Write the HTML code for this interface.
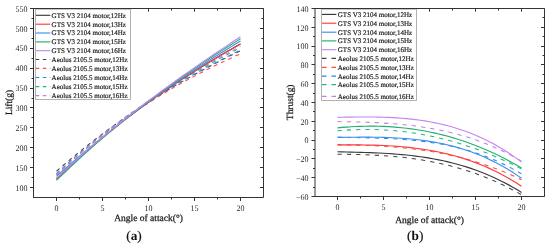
<!DOCTYPE html>
<html><head><meta charset="utf-8"><style>
html,body{margin:0;padding:0;background:#fff;width:550px;height:248px;overflow:hidden}
svg{display:block}
</style></head><body>
<svg width="550" height="248" viewBox="0 0 550 248" text-rendering="geometricPrecision">
<rect width="550" height="248" fill="#fff"/>
<g fill="none" stroke-width="1.15" stroke-linejoin="round">
<polyline points="56.5,171.23 61.1,167.22 65.7,163.27 70.3,159.39 74.9,155.56 79.5,151.8 84.1,148.1 88.7,144.45 93.3,140.86 97.9,137.33 102.5,133.86 107.1,130.44 111.7,127.07 116.3,123.76 120.9,120.5 125.5,117.29 130.1,114.13 134.7,111.02 139.3,107.96 143.9,104.94 148.5,101.97 153.1,99.05 157.7,96.16 162.3,93.33 166.9,90.53 171.5,87.77 176.1,85.06 180.7,82.38 185.3,79.74 189.9,77.14 194.5,74.57 199.1,72.04 203.7,69.55 208.3,67.08 212.9,64.65 217.5,62.25 222.1,59.88 226.7,57.53 231.3,55.22 235.9,52.93 240.5,50.67" stroke="#444444" stroke-width="1.05" stroke-dasharray="4,4"/>
<polyline points="56.5,175.13 61.1,170.79 65.7,166.54 70.3,162.37 74.9,158.28 79.5,154.27 84.1,150.35 88.7,146.5 93.3,142.72 97.9,139.02 102.5,135.39 107.1,131.84 111.7,128.36 116.3,124.94 120.9,121.59 125.5,118.31 130.1,115.1 134.7,111.94 139.3,108.85 143.9,105.82 148.5,102.85 153.1,99.94 157.7,97.08 162.3,94.28 166.9,91.54 171.5,88.84 176.1,86.2 180.7,83.61 185.3,81.06 189.9,78.56 194.5,76.11 199.1,73.7 203.7,71.33 208.3,69.01 212.9,66.72 217.5,64.47 222.1,62.27 226.7,60.09 231.3,57.95 235.9,55.84 240.5,53.77" stroke="#ff4a4a" stroke-width="1.05" stroke-dasharray="4,4"/>
<polyline points="56.5,173.62 61.1,169.4 65.7,165.26 70.3,161.19 74.9,157.19 79.5,153.27 84.1,149.41 88.7,145.62 93.3,141.9 97.9,138.25 102.5,134.66 107.1,131.13 111.7,127.66 116.3,124.25 120.9,120.91 125.5,117.62 130.1,114.38 134.7,111.2 139.3,108.07 143.9,105 148.5,101.97 153.1,98.99 157.7,96.07 162.3,93.18 166.9,90.34 171.5,87.55 176.1,84.8 180.7,82.08 185.3,79.41 189.9,76.77 194.5,74.18 199.1,71.61 203.7,69.08 208.3,66.58 212.9,64.11 217.5,61.68 222.1,59.27 226.7,56.88 231.3,54.52 235.9,52.19 240.5,49.88" stroke="#2a8ae8" stroke-width="1.05" stroke-dasharray="4,4"/>
<polyline points="56.5,174.05 61.1,169.77 65.7,165.56 70.3,161.44 74.9,157.39 79.5,153.41 84.1,149.5 88.7,145.66 93.3,141.89 97.9,138.18 102.5,134.54 107.1,130.96 111.7,127.45 116.3,123.99 120.9,120.6 125.5,117.25 130.1,113.97 134.7,110.74 139.3,107.56 143.9,104.43 148.5,101.35 153.1,98.31 157.7,95.32 162.3,92.38 166.9,89.48 171.5,86.62 176.1,83.79 180.7,81.01 185.3,78.26 189.9,75.55 194.5,72.87 199.1,70.22 203.7,67.6 208.3,65.01 212.9,62.44 217.5,59.9 222.1,57.38 226.7,54.89 231.3,52.41 235.9,49.96 240.5,47.52" stroke="#22b585" stroke-width="1.05" stroke-dasharray="4,4"/>
<polyline points="56.5,174.62 61.1,170.34 65.7,166.13 70.3,161.99 74.9,157.92 79.5,153.91 84.1,149.98 88.7,146.1 93.3,142.29 97.9,138.54 102.5,134.86 107.1,131.23 111.7,127.66 116.3,124.15 120.9,120.7 125.5,117.3 130.1,113.95 134.7,110.65 139.3,107.41 143.9,104.22 148.5,101.07 153.1,97.97 157.7,94.92 162.3,91.91 166.9,88.95 171.5,86.02 176.1,83.14 180.7,80.3 185.3,77.49 189.9,74.72 194.5,71.99 199.1,69.29 203.7,66.63 208.3,63.99 212.9,61.39 217.5,58.82 222.1,56.27 226.7,53.75 231.3,51.26 235.9,48.79 240.5,46.34" stroke="#c47ee8" stroke-width="1.05" stroke-dasharray="4,4"/>
<polyline points="56.5,178.83 61.1,174.43 65.7,170.11 70.3,165.84 74.9,161.64 79.5,157.5 84.1,153.42 88.7,149.41 93.3,145.45 97.9,141.55 102.5,137.7 107.1,133.91 111.7,130.18 116.3,126.5 120.9,122.88 125.5,119.3 130.1,115.78 134.7,112.3 139.3,108.88 143.9,105.5 148.5,102.18 153.1,98.89 157.7,95.65 162.3,92.46 166.9,89.31 171.5,86.2 176.1,83.13 180.7,80.11 185.3,77.12 189.9,74.17 194.5,71.25 199.1,68.38 203.7,65.53 208.3,62.73 212.9,59.95 217.5,57.21 222.1,54.5 226.7,51.82 231.3,49.16 235.9,46.54 240.5,43.94" stroke="#3a3a3a"/>
<polyline points="56.5,179.22 61.1,174.77 65.7,170.39 70.3,166.08 74.9,161.84 79.5,157.66 84.1,153.55 88.7,149.5 93.3,145.51 97.9,141.59 102.5,137.72 107.1,133.92 111.7,130.17 116.3,126.48 120.9,122.85 125.5,119.27 130.1,115.74 134.7,112.27 139.3,108.84 143.9,105.47 148.5,102.14 153.1,98.86 157.7,95.63 162.3,92.44 166.9,89.3 171.5,86.19 176.1,83.13 180.7,80.11 185.3,77.13 189.9,74.18 194.5,71.28 199.1,68.4 203.7,65.56 208.3,62.76 212.9,59.98 217.5,57.24 222.1,54.53 226.7,51.84 231.3,49.18 235.9,46.54 240.5,43.94" stroke="#ff3b3b"/>
<polyline points="56.5,176.38 61.1,172.27 65.7,168.2 70.3,164.18 74.9,160.2 79.5,156.26 84.1,152.36 88.7,148.5 93.3,144.68 97.9,140.9 102.5,137.16 107.1,133.45 111.7,129.79 116.3,126.16 120.9,122.57 125.5,119.02 130.1,115.5 134.7,112.03 139.3,108.58 143.9,105.17 148.5,101.8 153.1,98.46 157.7,95.16 162.3,91.89 166.9,88.65 171.5,85.45 176.1,82.28 180.7,79.14 185.3,76.03 189.9,72.96 194.5,69.91 199.1,66.9 203.7,63.92 208.3,60.96 212.9,58.04 217.5,55.14 222.1,52.28 226.7,49.44 231.3,46.63 235.9,43.85 240.5,41.09" stroke="#3b8ff0"/>
<polyline points="56.5,180.4 61.1,175.9 65.7,171.47 70.3,167.1 74.9,162.79 79.5,158.54 84.1,154.35 88.7,150.22 93.3,146.15 97.9,142.13 102.5,138.17 107.1,134.26 111.7,130.4 116.3,126.59 120.9,122.84 125.5,119.13 130.1,115.47 134.7,111.85 139.3,108.29 143.9,104.76 148.5,101.28 153.1,97.84 157.7,94.44 162.3,91.07 166.9,87.75 171.5,84.46 176.1,81.21 180.7,77.99 185.3,74.81 189.9,71.66 194.5,68.54 199.1,65.44 203.7,62.38 208.3,59.35 212.9,56.33 217.5,53.35 222.1,50.39 226.7,47.45 231.3,44.53 235.9,41.63 240.5,38.75" stroke="#22b070"/>
<polyline points="56.5,178.23 61.1,173.91 65.7,169.64 70.3,165.42 74.9,161.25 79.5,157.14 84.1,153.07 88.7,149.06 93.3,145.09 97.9,141.17 102.5,137.29 107.1,133.46 111.7,129.67 116.3,125.93 120.9,122.22 125.5,118.56 130.1,114.93 134.7,111.35 139.3,107.8 143.9,104.28 148.5,100.8 153.1,97.35 157.7,93.94 162.3,90.56 166.9,87.2 171.5,83.88 176.1,80.58 180.7,77.32 185.3,74.07 189.9,70.86 194.5,67.66 199.1,64.49 203.7,61.34 208.3,58.21 212.9,55.1 217.5,52.01 222.1,48.93 226.7,45.87 231.3,42.83 235.9,39.8 240.5,36.78" stroke="#c486f2"/>
</g>
<path d="M56.5 197.5v3.5 M56.5 8.5v3.2 M102.5 197.5v3.5 M102.5 8.5v3.2 M148.5 197.5v3.5 M148.5 8.5v3.2 M194.5 197.5v3.5 M194.5 8.5v3.2 M240.5 197.5v3.5 M240.5 8.5v3.2 M79.5 197.5v2 M79.5 8.5v2 M125.5 197.5v2 M125.5 8.5v2 M171.5 197.5v2 M171.5 8.5v2 M217.5 197.5v2 M217.5 8.5v2 M33.5 187.5h-3.5 M263.5 187.5h-3.5 M33.5 167.5h-3.5 M263.5 167.5h-3.5 M33.5 147.5h-3.5 M263.5 147.5h-3.5 M33.5 127.5h-3.5 M263.5 127.5h-3.5 M33.5 107.5h-3.5 M263.5 107.5h-3.5 M33.5 88.5h-3.5 M263.5 88.5h-3.5 M33.5 68.5h-3.5 M263.5 68.5h-3.5 M33.5 48.5h-3.5 M263.5 48.5h-3.5 M33.5 28.5h-3.5 M263.5 28.5h-3.5 M33.5 8.5h-3.5 M263.5 8.5h-3.5 M33.5 177.5h-2 M263.5 177.5h-2 M33.5 157.5h-2 M263.5 157.5h-2 M33.5 137.5h-2 M263.5 137.5h-2 M33.5 117.5h-2 M263.5 117.5h-2 M33.5 98.5h-2 M263.5 98.5h-2 M33.5 78.5h-2 M263.5 78.5h-2 M33.5 58.5h-2 M263.5 58.5h-2 M33.5 38.5h-2 M263.5 38.5h-2 M33.5 18.5h-2 M263.5 18.5h-2" stroke="#333333" stroke-width="1" fill="none"/>
<rect x="35.5" y="9.2" width="95" height="90.3" fill="#fff" stroke="#aaa" stroke-width="0.9"/>
<g font-family='"Liberation Serif", "Times New Roman", serif' fill="#1a1a1a" stroke="#1a1a1a" stroke-width="0.18">
<path d="M35.8 15.3H50.3" stroke="#3a3a3a" stroke-width="1.15"/>
<text transform="translate(51.6 17.7) scale(1 1)" font-size="7" text-anchor="start">GTS V3 2104 motor,12Hz</text>
<path d="M35.8 24.2H50.3" stroke="#ff3b3b" stroke-width="1.15"/>
<text transform="translate(51.6 26.6) scale(1 1)" font-size="7" text-anchor="start">GTS V3 2104 motor,13Hz</text>
<path d="M35.8 33H50.3" stroke="#3b8ff0" stroke-width="1.15"/>
<text transform="translate(51.6 35.4) scale(1 1)" font-size="7" text-anchor="start">GTS V3 2104 motor,14Hz</text>
<path d="M35.8 41.9H50.3" stroke="#22b070" stroke-width="1.15"/>
<text transform="translate(51.6 44.3) scale(1 1)" font-size="7" text-anchor="start">GTS V3 2104 motor,15Hz</text>
<path d="M35.8 50.7H50.3" stroke="#c486f2" stroke-width="1.15"/>
<text transform="translate(51.6 53.1) scale(1 1)" font-size="7" text-anchor="start">GTS V3 2104 motor,16Hz</text>
<path d="M35.8 59.5H50.3" stroke="#444444" stroke-width="1.2" stroke-dasharray="3.5,3.5"/>
<text transform="translate(51.6 61.9) scale(1 1)" font-size="7" text-anchor="start">Aeolus 2105.5 motor,12Hz</text>
<path d="M35.8 68.4H50.3" stroke="#ff4a4a" stroke-width="1.2" stroke-dasharray="3.5,3.5"/>
<text transform="translate(51.6 70.8) scale(1 1)" font-size="7" text-anchor="start">Aeolus 2105.5 motor,13Hz</text>
<path d="M35.8 77.5H50.3" stroke="#2a8ae8" stroke-width="1.2" stroke-dasharray="3.5,3.5"/>
<text transform="translate(51.6 79.9) scale(1 1)" font-size="7" text-anchor="start">Aeolus 2105.5 motor,14Hz</text>
<path d="M35.8 86.6H50.3" stroke="#22b585" stroke-width="1.2" stroke-dasharray="3.5,3.5"/>
<text transform="translate(51.6 89) scale(1 1)" font-size="7" text-anchor="start">Aeolus 2105.5 motor,15Hz</text>
<path d="M35.8 95.6H50.3" stroke="#c47ee8" stroke-width="1.2" stroke-dasharray="3.5,3.5"/>
<text transform="translate(51.6 98) scale(1 1)" font-size="7" text-anchor="start">Aeolus 2105.5 motor,16Hz</text>
</g>
<path d="M33 8.5H263.5V197.5H33" fill="none" stroke="#333333" stroke-width="1"/>
<path d="M33.5 8V198" fill="none" stroke="#333333" stroke-width="1"/>
<g font-family='"Liberation Serif", "Times New Roman", serif' fill="#2a2a2a">
<text transform="translate(56.5 210.6) scale(0.94 1)" font-size="8.5" text-anchor="middle">0</text>
<text transform="translate(102.5 210.6) scale(0.94 1)" font-size="8.5" text-anchor="middle">5</text>
<text transform="translate(148.5 210.6) scale(0.94 1)" font-size="8.5" text-anchor="middle">10</text>
<text transform="translate(194.5 210.6) scale(0.94 1)" font-size="8.5" text-anchor="middle">15</text>
<text transform="translate(240.5 210.6) scale(0.94 1)" font-size="8.5" text-anchor="middle">20</text>
<text transform="translate(27.5 190.75) scale(0.94 1)" font-size="8.5" text-anchor="end">100</text>
<text transform="translate(27.5 170.86) scale(0.94 1)" font-size="8.5" text-anchor="end">150</text>
<text transform="translate(27.5 150.96) scale(0.94 1)" font-size="8.5" text-anchor="end">200</text>
<text transform="translate(27.5 131.07) scale(0.94 1)" font-size="8.5" text-anchor="end">250</text>
<text transform="translate(27.5 111.17) scale(0.94 1)" font-size="8.5" text-anchor="end">300</text>
<text transform="translate(27.5 91.28) scale(0.94 1)" font-size="8.5" text-anchor="end">350</text>
<text transform="translate(27.5 71.38) scale(0.94 1)" font-size="8.5" text-anchor="end">400</text>
<text transform="translate(27.5 51.49) scale(0.94 1)" font-size="8.5" text-anchor="end">450</text>
<text transform="translate(27.5 31.59) scale(0.94 1)" font-size="8.5" text-anchor="end">500</text>
<text transform="translate(27.5 11.7) scale(0.94 1)" font-size="8.5" text-anchor="end">550</text>
</g>
<g font-family='"Liberation Serif", "Times New Roman", serif' fill="#1a1a1a">
<text transform="translate(148.5 221.2) scale(1 1)" font-size="9.5" text-anchor="middle" stroke="#1a1a1a" stroke-width="0.25">Angle of attack(°)</text>
<text transform="translate(11.8 102.5) rotate(-90)" font-size="9.45" stroke="#1a1a1a" stroke-width="0.25" text-anchor="middle">Lift(g)</text>
<text x="134" y="240" font-size="13.3" fill="#111" text-anchor="middle" stroke="#111" stroke-width="0.2">(<tspan font-weight="bold" stroke-width="0">a</tspan>)</text>
</g>
<g fill="none" stroke-width="1.15" stroke-linejoin="round">
<polyline points="337.5,154.26 342.1,154.28 346.7,154.32 351.3,154.38 355.9,154.47 360.5,154.59 365.1,154.73 369.7,154.91 374.3,155.13 378.9,155.38 383.5,155.67 388.1,156.01 392.7,156.38 397.3,156.81 401.9,157.28 406.5,157.81 411.1,158.39 415.7,159.03 420.3,159.72 424.9,160.48 429.5,161.3 434.1,162.18 438.7,163.14 443.3,164.17 447.9,165.26 452.5,166.44 457.1,167.69 461.7,169.03 466.3,170.44 470.9,171.94 475.5,173.53 480.1,175.21 484.7,176.98 489.3,178.85 493.9,180.81 498.5,182.88 503.1,185.04 507.7,187.31 512.3,189.69 516.9,192.17 521.5,194.77" stroke="#444444" stroke-width="1.05" stroke-dasharray="4.3,5"/>
<polyline points="337.5,144.81 342.1,144.86 346.7,144.92 351.3,145.01 355.9,145.11 360.5,145.24 365.1,145.39 369.7,145.57 374.3,145.78 378.9,146.01 383.5,146.28 388.1,146.59 392.7,146.93 397.3,147.31 401.9,147.73 406.5,148.19 411.1,148.7 415.7,149.25 420.3,149.86 424.9,150.52 429.5,151.22 434.1,151.99 438.7,152.81 443.3,153.69 447.9,154.63 452.5,155.64 457.1,156.71 461.7,157.85 466.3,159.06 470.9,160.34 475.5,161.7 480.1,163.13 484.7,164.64 489.3,166.23 493.9,167.9 498.5,169.66 503.1,171.5 507.7,173.43 512.3,175.45 516.9,177.56 521.5,179.77" stroke="#ff4a4a" stroke-width="1.05" stroke-dasharray="4.3,5"/>
<polyline points="337.5,137.23 342.1,137.32 346.7,137.41 351.3,137.49 355.9,137.58 360.5,137.67 365.1,137.77 369.7,137.88 374.3,138.01 378.9,138.16 383.5,138.33 388.1,138.53 392.7,138.76 397.3,139.03 401.9,139.34 406.5,139.69 411.1,140.09 415.7,140.54 420.3,141.05 424.9,141.61 429.5,142.24 434.1,142.93 438.7,143.7 443.3,144.53 447.9,145.45 452.5,146.45 457.1,147.53 461.7,148.71 466.3,149.97 470.9,151.34 475.5,152.81 480.1,154.38 484.7,156.06 489.3,157.85 493.9,159.76 498.5,161.79 503.1,163.95 507.7,166.23 512.3,168.65 516.9,171.2 521.5,173.89" stroke="#2a8ae8" stroke-width="1.05" stroke-dasharray="4.3,5"/>
<polyline points="337.5,130.85 342.1,130.45 346.7,130.12 351.3,129.85 355.9,129.66 360.5,129.53 365.1,129.47 369.7,129.47 374.3,129.55 378.9,129.69 383.5,129.91 388.1,130.19 392.7,130.54 397.3,130.96 401.9,131.45 406.5,132 411.1,132.63 415.7,133.33 420.3,134.1 424.9,134.93 429.5,135.84 434.1,136.82 438.7,137.87 443.3,138.98 447.9,140.17 452.5,141.43 457.1,142.76 461.7,144.17 466.3,145.64 470.9,147.18 475.5,148.8 480.1,150.49 484.7,152.25 489.3,154.08 493.9,155.98 498.5,157.96 503.1,160 507.7,162.12 512.3,164.32 516.9,166.58 521.5,168.92" stroke="#22b585" stroke-width="1.05" stroke-dasharray="4.3,5"/>
<polyline points="337.5,121.58 342.1,121.66 346.7,121.75 351.3,121.84 355.9,121.95 360.5,122.08 365.1,122.23 369.7,122.4 374.3,122.6 378.9,122.83 383.5,123.09 388.1,123.39 392.7,123.72 397.3,124.1 401.9,124.52 406.5,124.99 411.1,125.51 415.7,126.08 420.3,126.71 424.9,127.4 429.5,128.15 434.1,128.97 438.7,129.86 443.3,130.82 447.9,131.86 452.5,132.97 457.1,134.17 461.7,135.45 466.3,136.81 470.9,138.27 475.5,139.82 480.1,141.47 484.7,143.22 489.3,145.07 493.9,147.03 498.5,149.09 503.1,151.27 507.7,153.56 512.3,155.97 516.9,158.5 521.5,161.15" stroke="#c47ee8" stroke-width="1.05" stroke-dasharray="4.3,5"/>
<polyline points="337.5,151.8 342.1,151.9 346.7,151.99 351.3,152.1 355.9,152.21 360.5,152.33 365.1,152.47 369.7,152.63 374.3,152.81 378.9,153.02 383.5,153.27 388.1,153.54 392.7,153.85 397.3,154.21 401.9,154.61 406.5,155.05 411.1,155.55 415.7,156.11 420.3,156.72 424.9,157.4 429.5,158.14 434.1,158.95 438.7,159.84 443.3,160.8 447.9,161.84 452.5,162.97 457.1,164.19 461.7,165.49 466.3,166.9 470.9,168.4 475.5,170 480.1,171.7 484.7,173.52 489.3,175.45 493.9,177.5 498.5,179.66 503.1,181.95 507.7,184.37 512.3,186.91 516.9,189.59 521.5,192.41" stroke="#3a3a3a"/>
<polyline points="337.5,144.9 342.1,144.88 346.7,144.87 351.3,144.87 355.9,144.89 360.5,144.92 365.1,144.99 369.7,145.07 374.3,145.19 378.9,145.35 383.5,145.54 388.1,145.77 392.7,146.04 397.3,146.37 401.9,146.74 406.5,147.17 411.1,147.66 415.7,148.21 420.3,148.83 424.9,149.52 429.5,150.28 434.1,151.11 438.7,152.03 443.3,153.03 447.9,154.11 452.5,155.29 457.1,156.56 461.7,157.92 466.3,159.39 470.9,160.96 475.5,162.64 480.1,164.44 484.7,166.34 489.3,168.37 493.9,170.52 498.5,172.79 503.1,175.19 507.7,177.73 512.3,180.4 516.9,183.21 521.5,186.16" stroke="#ff3b3b"/>
<polyline points="337.5,137.39 342.1,137.34 346.7,137.29 351.3,137.25 355.9,137.21 360.5,137.19 365.1,137.18 369.7,137.19 374.3,137.23 378.9,137.3 383.5,137.41 388.1,137.55 392.7,137.74 397.3,137.97 401.9,138.26 406.5,138.6 411.1,139.01 415.7,139.48 420.3,140.01 424.9,140.63 429.5,141.32 434.1,142.09 438.7,142.95 443.3,143.9 447.9,144.95 452.5,146.09 457.1,147.35 461.7,148.71 466.3,150.18 470.9,151.77 475.5,153.48 480.1,155.32 484.7,157.29 489.3,159.4 493.9,161.64 498.5,164.03 503.1,166.57 507.7,169.25 512.3,172.1 516.9,175.11 521.5,178.28" stroke="#3b8ff0"/>
<polyline points="337.5,127.87 342.1,127.44 346.7,127.07 351.3,126.77 355.9,126.52 360.5,126.34 365.1,126.23 369.7,126.18 374.3,126.19 378.9,126.28 383.5,126.43 388.1,126.65 392.7,126.94 397.3,127.31 401.9,127.74 406.5,128.25 411.1,128.83 415.7,129.49 420.3,130.23 424.9,131.04 429.5,131.94 434.1,132.91 438.7,133.96 443.3,135.1 447.9,136.31 452.5,137.61 457.1,139 461.7,140.47 466.3,142.03 470.9,143.68 475.5,145.42 480.1,147.24 484.7,149.16 489.3,151.17 493.9,153.28 498.5,155.47 503.1,157.77 507.7,160.16 512.3,162.64 516.9,165.23 521.5,167.91" stroke="#22b070"/>
<polyline points="337.5,117.31 342.1,117.22 346.7,117.14 351.3,117.07 355.9,117.01 360.5,116.98 365.1,116.96 369.7,116.98 374.3,117.02 378.9,117.11 383.5,117.23 388.1,117.4 392.7,117.62 397.3,117.9 401.9,118.23 406.5,118.63 411.1,119.09 415.7,119.63 420.3,120.24 424.9,120.94 429.5,121.72 434.1,122.59 438.7,123.55 443.3,124.61 447.9,125.78 452.5,127.05 457.1,128.44 461.7,129.94 466.3,131.56 470.9,133.31 475.5,135.19 480.1,137.2 484.7,139.35 489.3,141.64 493.9,144.08 498.5,146.67 503.1,149.42 507.7,152.32 512.3,155.4 516.9,158.64 521.5,162.06" stroke="#c486f2"/>
</g>
<path d="M337.5 196.5v3.5 M337.5 8.5v3.2 M383.5 196.5v3.5 M383.5 8.5v3.2 M429.5 196.5v3.5 M429.5 8.5v3.2 M475.5 196.5v3.5 M475.5 8.5v3.2 M521.5 196.5v3.5 M521.5 8.5v3.2 M360.5 196.5v2 M360.5 8.5v2 M406.5 196.5v2 M406.5 8.5v2 M452.5 196.5v2 M452.5 8.5v2 M498.5 196.5v2 M498.5 8.5v2 M315 196.5h-3.5 M544.5 196.5h-3.5 M315 177.5h-3.5 M544.5 177.5h-3.5 M315 158.5h-3.5 M544.5 158.5h-3.5 M315 140.5h-3.5 M544.5 140.5h-3.5 M315 121.5h-3.5 M544.5 121.5h-3.5 M315 102.5h-3.5 M544.5 102.5h-3.5 M315 83.5h-3.5 M544.5 83.5h-3.5 M315 64.5h-3.5 M544.5 64.5h-3.5 M315 46.5h-3.5 M544.5 46.5h-3.5 M315 27.5h-3.5 M544.5 27.5h-3.5 M315 8.5h-3.5 M544.5 8.5h-3.5 M315 187.5h-2 M544.5 187.5h-2 M315 168.5h-2 M544.5 168.5h-2 M315 149.5h-2 M544.5 149.5h-2 M315 130.5h-2 M544.5 130.5h-2 M315 111.5h-2 M544.5 111.5h-2 M315 93.5h-2 M544.5 93.5h-2 M315 74.5h-2 M544.5 74.5h-2 M315 55.5h-2 M544.5 55.5h-2 M315 36.5h-2 M544.5 36.5h-2 M315 17.5h-2 M544.5 17.5h-2" stroke="#333333" stroke-width="1" fill="none"/>
<rect x="321.5" y="9.2" width="95" height="91.3" fill="#fff" stroke="#aaa" stroke-width="0.9"/>
<g font-family='"Liberation Serif", "Times New Roman", serif' fill="#1a1a1a" stroke="#1a1a1a" stroke-width="0.18">
<path d="M322 14.4H336.4" stroke="#3a3a3a" stroke-width="1.15"/>
<text transform="translate(337.8 16.8) scale(1 1)" font-size="7" text-anchor="start">GTS V3 2104 motor,12Hz</text>
<path d="M322 23.2H336.4" stroke="#ff3b3b" stroke-width="1.15"/>
<text transform="translate(337.8 25.6) scale(1 1)" font-size="7" text-anchor="start">GTS V3 2104 motor,13Hz</text>
<path d="M322 32.2H336.4" stroke="#3b8ff0" stroke-width="1.15"/>
<text transform="translate(337.8 34.6) scale(1 1)" font-size="7" text-anchor="start">GTS V3 2104 motor,14Hz</text>
<path d="M322 40.9H336.4" stroke="#22b070" stroke-width="1.15"/>
<text transform="translate(337.8 43.3) scale(1 1)" font-size="7" text-anchor="start">GTS V3 2104 motor,15Hz</text>
<path d="M322 49.7H336.4" stroke="#c486f2" stroke-width="1.15"/>
<text transform="translate(337.8 52.1) scale(1 1)" font-size="7" text-anchor="start">GTS V3 2104 motor,16Hz</text>
<path d="M322 58.4H336.4" stroke="#444444" stroke-width="1.2" stroke-dasharray="4.5,5"/>
<text transform="translate(337.8 60.8) scale(1 1)" font-size="7" text-anchor="start">Aeolus 2105.5 motor,12Hz</text>
<path d="M322 67.4H336.4" stroke="#ff4a4a" stroke-width="1.2" stroke-dasharray="4.5,5"/>
<text transform="translate(337.8 69.8) scale(1 1)" font-size="7" text-anchor="start">Aeolus 2105.5 motor,13Hz</text>
<path d="M322 76.2H336.4" stroke="#2a8ae8" stroke-width="1.2" stroke-dasharray="4.5,5"/>
<text transform="translate(337.8 78.6) scale(1 1)" font-size="7" text-anchor="start">Aeolus 2105.5 motor,14Hz</text>
<path d="M322 84.7H336.4" stroke="#22b585" stroke-width="1.2" stroke-dasharray="4.5,5"/>
<text transform="translate(337.8 87.1) scale(1 1)" font-size="7" text-anchor="start">Aeolus 2105.5 motor,15Hz</text>
<path d="M322 96.3H336.4" stroke="#c47ee8" stroke-width="1.2" stroke-dasharray="4.5,5"/>
<text transform="translate(337.8 98.7) scale(1 1)" font-size="7" text-anchor="start">Aeolus 2105.5 motor,16Hz</text>
</g>
<path d="M314 8.5H544.5V196.5H314" fill="none" stroke="#333333" stroke-width="1"/>
<path d="M315 8V197" fill="none" stroke="#333333" stroke-width="1"/>
<g font-family='"Liberation Serif", "Times New Roman", serif' fill="#2a2a2a">
<text transform="translate(337.5 209.6) scale(0.94 1)" font-size="8.5" text-anchor="middle">0</text>
<text transform="translate(383.5 209.6) scale(0.94 1)" font-size="8.5" text-anchor="middle">5</text>
<text transform="translate(429.5 209.6) scale(0.94 1)" font-size="8.5" text-anchor="middle">10</text>
<text transform="translate(475.5 209.6) scale(0.94 1)" font-size="8.5" text-anchor="middle">15</text>
<text transform="translate(521.5 209.6) scale(0.94 1)" font-size="8.5" text-anchor="middle">20</text>
<text transform="translate(308.5 199.7) scale(0.94 1)" font-size="8.5" text-anchor="end">−60</text>
<text transform="translate(308.5 180.9) scale(0.94 1)" font-size="8.5" text-anchor="end">−40</text>
<text transform="translate(308.5 162.1) scale(0.94 1)" font-size="8.5" text-anchor="end">−20</text>
<text transform="translate(308.5 143.3) scale(0.94 1)" font-size="8.5" text-anchor="end">0</text>
<text transform="translate(308.5 124.5) scale(0.94 1)" font-size="8.5" text-anchor="end">20</text>
<text transform="translate(308.5 105.7) scale(0.94 1)" font-size="8.5" text-anchor="end">40</text>
<text transform="translate(308.5 86.9) scale(0.94 1)" font-size="8.5" text-anchor="end">60</text>
<text transform="translate(308.5 68.1) scale(0.94 1)" font-size="8.5" text-anchor="end">80</text>
<text transform="translate(308.5 49.3) scale(0.94 1)" font-size="8.5" text-anchor="end">100</text>
<text transform="translate(308.5 30.5) scale(0.94 1)" font-size="8.5" text-anchor="end">120</text>
<text transform="translate(308.5 11.7) scale(0.94 1)" font-size="8.5" text-anchor="end">140</text>
</g>
<g font-family='"Liberation Serif", "Times New Roman", serif' fill="#1a1a1a">
<text transform="translate(429.5 223.2) scale(1 1)" font-size="9.5" text-anchor="middle" stroke="#1a1a1a" stroke-width="0.25">Angle of attack(°)</text>
<text transform="translate(292.6 102.3) rotate(-90)" font-size="9.45" stroke="#1a1a1a" stroke-width="0.25" text-anchor="middle">Thrust(g)</text>
<text x="415.2" y="240" font-size="13.3" fill="#111" text-anchor="middle" stroke="#111" stroke-width="0.2">(<tspan font-weight="bold" stroke-width="0">b</tspan>)</text>
</g>
</svg>
</body></html>
